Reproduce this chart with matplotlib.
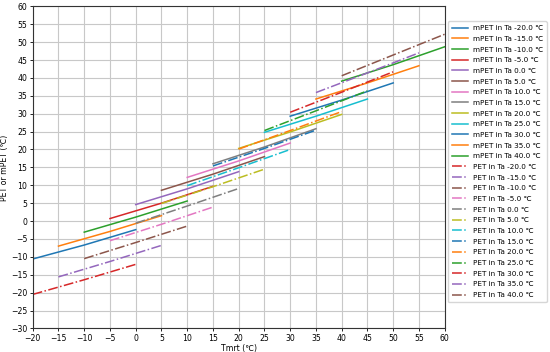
import matplotlib
matplotlib.use("Agg")
import matplotlib.pyplot as plt

ta = [-20, -15, -10, -5, 0, 5, 10, 15, 20, 25, 30, 35, 40]
span_offsets = [0, 10, 20]  # Tmrt = Ta + offset

mpet_start = [-10.6, -7.0, -3.1, 0.7, 4.6, 8.6, 12.2, 16.0, 20.3, 24.8, 29.3, 34.1, 39.1]
mpet_mid   = [-6.7, -2.9, 1.1, 5.0, 9.0, 13.1, 16.8, 20.7, 24.9, 29.3, 33.8, 38.6, 43.7]
mpet_end   = [-2.4, 1.5, 5.6, 9.7, 13.8, 18.0, 21.8, 25.8, 29.8, 34.1, 38.6, 43.4, 48.7]

pet_start = [-20.5, -15.6, -10.5, -5.5, -0.6, 4.9, 9.9, 15.4, 20.1, 25.3, 30.4, 35.9, 40.6]
pet_mid   = [-16.4, -11.3, -6.0, -0.9, 4.2, 9.6, 14.9, 20.3, 25.3, 30.8, 36.0, 41.4, 46.4]
pet_end   = [-12.1, -6.8, -1.4, 3.9, 9.1, 14.5, 20.0, 25.4, 30.6, 36.4, 41.7, 47.0, 52.2]

colors = plt.rcParams['axes.prop_cycle'].by_key()['color']

fig = plt.figure(figsize=(5.5, 3.52), dpi=100)
ax = fig.add_axes([0.0595, 0.067, 0.749, 0.915])

ci = 0
for i, t in enumerate(ta):
    xs = [t + o for o in span_offsets]
    ys = [mpet_start[i], mpet_mid[i], mpet_end[i]]
    ax.plot(xs, ys, '-', color=colors[ci % 10], lw=1.1, label=f"mPET in Ta {t:.1f} ℃")
    ci += 1
for i, t in enumerate(ta):
    xs = [t + o for o in span_offsets]
    ys = [pet_start[i], pet_mid[i], pet_end[i]]
    ax.plot(xs, ys, '-.', color=colors[ci % 10], lw=1.1, label=f"PET in Ta {t:.1f} ℃")
    ci += 1

ax.set_xlim(-20, 60)
ax.set_ylim(-30, 60)
ax.set_xticks(range(-20, 61, 5))
ax.set_yticks(range(-30, 61, 5))
ax.tick_params(labelsize=5.6, length=2.5, width=0.6, pad=1.5)
ax.grid(True, color='#c8c8c8', lw=0.8)
for s in ax.spines.values():
    s.set_linewidth(0.8)
    s.set_color('#333333')
ax.set_xlabel("Tmrt (℃)", fontsize=5.6, labelpad=1)
ax.set_ylabel("PET or mPET (℃)", fontsize=5.6, labelpad=1)

fig.legend(loc='upper left', bbox_to_anchor=(0.814, 0.94), fontsize=5.2,
           frameon=True, handlelength=2.2, labelspacing=0.64, borderpad=0.55,
           handletextpad=0.7, borderaxespad=0, framealpha=0.8, edgecolor='#cccccc')

fig.savefig("out.png", dpi=100)
